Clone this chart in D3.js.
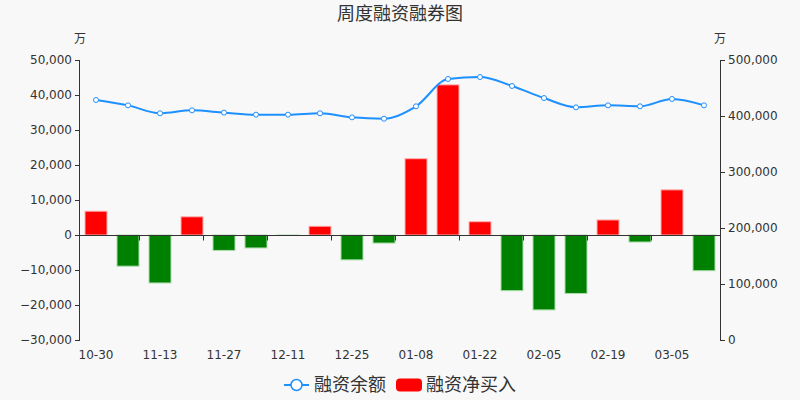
<!DOCTYPE html>
<html>
<head>
<meta charset="utf-8">
<script src="https://cdn.jsdelivr.net/npm/d3@7"></script>
<style>
  body { margin: 0; background: #f8f8f8; }
  svg { display: block; font-family: "DejaVu Sans", "Noto Sans CJK SC", sans-serif; }
</style>
</head>
<body>
<svg id="chart" width="800" height="400"></svg>
<script>
const dates = ["10-30", "11-06", "11-13", "11-20", "11-27", "12-04", "12-11", "12-18", "12-25", "01-01",
  "01-08", "01-15", "01-22", "01-29", "02-05", "02-12", "02-19", "02-26", "03-05", "03-12"];
// 融资净买入 (万)
const netBuy = [6800, -8900, -13700, 5200, -4400, -3700, -100, 2500, -7100, -2300,
  21800, 42900, 3800, -15900, -21400, -16700, 4300, -2000, 12900, -10200];
// 融资余额 (万)
const balance = [428600, 419000, 404800, 410100, 406000, 402400, 402400, 404800, 397600, 395200,
  417300, 466100, 469600, 453600, 432100, 415500, 419000, 417300, 430400, 419000];
const leftTicks = [-30000, -20000, -10000, 0, 10000, 20000, 30000, 40000, 50000];
const rightTicks = [0, 100000, 200000, 300000, 400000, 500000];

const width = 800;
const height = 400;
const margin = { top: 60, right: 80, bottom: 60, left: 80 };
const blue = "#1e90ff";
const textColor = "#333";

const svg = d3.select("#chart");
const fmt = d3.format(",");

const x = d3.scaleBand()
  .domain(dates)
  .range([margin.left, width - margin.right])
  .paddingInner(0.3125)
  .paddingOuter(0.15625);

const yLeft = d3.scaleLinear()
  .domain([-30000, 50000])
  .range([height - margin.bottom, margin.top]);

const yRight = d3.scaleLinear()
  .domain([0, 500000])
  .range([height - margin.bottom, margin.top]);

// title
svg.append("text")
  .attr("x", width / 2)
  .attr("y", 20)
  .attr("text-anchor", "middle")
  .attr("font-size", 18)
  .attr("fill", textColor)
  .text("周度融资融券图");

// unit labels
svg.append("text").attr("x", 80).attr("y", 43).attr("text-anchor", "middle")
  .attr("font-size", 12).attr("fill", textColor).text("万");
svg.append("text").attr("x", 720).attr("y", 43).attr("text-anchor", "middle")
  .attr("font-size", 12).attr("fill", textColor).text("万");

// left axis
const leftAxis = d3.axisLeft(yLeft).tickValues(leftTicks).tickFormat(fmt).tickSize(5).tickPadding(3);
svg.append("g")
  .attr("transform", `translate(${margin.left},0)`)
  .call(leftAxis)
  .call(g => g.select(".domain").attr("d", `M-0.5,${margin.top}V${height - margin.bottom}`))
  .call(g => g.selectAll("line,path").attr("stroke", textColor))
  .call(g => g.selectAll("text").attr("font-size", 12).attr("fill", textColor).attr("font-family", "DejaVu Sans"));

// right axis
const rightAxis = d3.axisRight(yRight).tickValues(rightTicks).tickFormat(fmt).tickSize(5).tickPadding(3);
svg.append("g")
  .attr("transform", `translate(${width - margin.right},0)`)
  .call(rightAxis)
  .call(g => g.select(".domain").attr("d", `M0.5,${margin.top}V${height - margin.bottom}`))
  .call(g => g.selectAll("line,path").attr("stroke", textColor))
  .call(g => g.selectAll("text").attr("font-size", 12).attr("fill", textColor).attr("font-family", "DejaVu Sans"));

// bars
svg.append("g")
  .selectAll("rect")
  .data(netBuy)
  .join("rect")
  .attr("x", (d, i) => x(dates[i]))
  .attr("y", d => yLeft(Math.max(0, d)))
  .attr("width", x.bandwidth())
  .attr("height", d => Math.abs(yLeft(d) - yLeft(0)))
  .attr("fill", d => d >= 0 ? "#ff0000" : "#008000")
  .attr("stroke", d => d >= 0 ? "#ffb0b0" : "#a8dca8")
  .attr("stroke-width", 1);

// x axis on zero line
const step = x.step();
const zeroY = Math.round(yLeft(0)) + 0.5;
const xAxis = svg.append("g");
xAxis.append("line")
  .attr("x1", margin.left).attr("x2", width - margin.right)
  .attr("y1", zeroY).attr("y2", zeroY)
  .attr("stroke", textColor);
xAxis.selectAll(".tick")
  .data(dates.filter((d, i) => i % 2 === 0 && i > 0))
  .join("line")
  .attr("x1", d => Math.round(x(d) - step * 0.15625 * 2) + 0.5)
  .attr("x2", d => Math.round(x(d) - step * 0.15625 * 2) + 0.5)
  .attr("y1", zeroY).attr("y2", zeroY + 5)
  .attr("stroke", textColor);
svg.append("g")
  .selectAll("text")
  .data(dates.filter((d, i) => i % 2 === 0))
  .join("text")
  .attr("x", d => x(d) + x.bandwidth() / 2)
  .attr("y", height - margin.bottom + 19)
  .attr("text-anchor", "middle")
  .attr("font-size", 12)
  .attr("fill", textColor)
  .text(d => d);

// line
const line = d3.line()
  .x((d, i) => x(dates[i]) + x.bandwidth() / 2)
  .y(d => yRight(d))
  .curve(d3.curveMonotoneX);

svg.append("path")
  .datum(balance)
  .attr("d", line)
  .attr("fill", "none")
  .attr("stroke", blue)
  .attr("stroke-width", 2);

svg.append("g")
  .selectAll("circle")
  .data(balance)
  .join("circle")
  .attr("cx", (d, i) => x(dates[i]) + x.bandwidth() / 2)
  .attr("cy", d => yRight(d))
  .attr("r", 2.5)
  .attr("fill", "#fff")
  .attr("stroke", blue)
  .attr("stroke-width", 1);

// legend
const legend = svg.append("g");
legend.append("line")
  .attr("x1", 284).attr("x2", 309).attr("y1", 385).attr("y2", 385)
  .attr("stroke", blue).attr("stroke-width", 2);
legend.append("circle")
  .attr("cx", 296.5).attr("cy", 385).attr("r", 5.5)
  .attr("fill", "#fff").attr("stroke", blue).attr("stroke-width", 1.5);
legend.append("text")
  .attr("x", 314).attr("y", 391)
  .attr("font-size", 18).attr("fill", textColor)
  .text("融资余额");
legend.append("rect")
  .attr("x", 396).attr("y", 378.5).attr("width", 26).attr("height", 13).attr("rx", 4)
  .attr("fill", "#ff0000");
legend.append("text")
  .attr("x", 426).attr("y", 391)
  .attr("font-size", 18).attr("fill", textColor)
  .text("融资净买入");
</script>
</body>
</html>
